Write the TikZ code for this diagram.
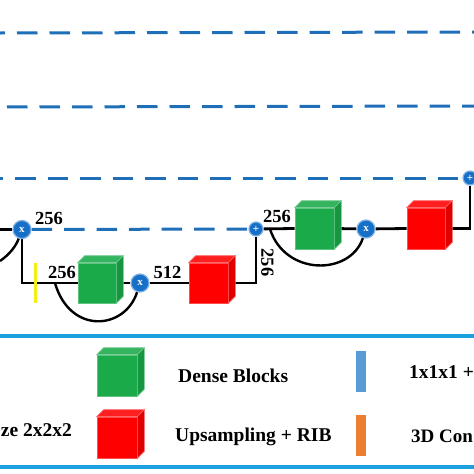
\documentclass[tikz,border=0pt]{standalone}
\usepackage{fontspec}
\setmainfont{Liberation Serif}
\usetikzlibrary{calc,backgrounds}
\definecolor{dashblue}{RGB}{31,111,184}
\definecolor{circblue}{RGB}{22,112,200}
\definecolor{legline}{RGB}{28,160,222}
\definecolor{cgreen}{RGB}{26,170,74}
\definecolor{cred}{RGB}{255,0,0}
\definecolor{barblue}{RGB}{91,155,213}
\definecolor{barorange}{RGB}{237,125,49}
\definecolor{baryellow}{RGB}{245,240,20}
\tikzset{
  skip/.style={draw=dashblue, line width=3pt, dash pattern=on 20.5pt off 12pt},
  conn/.style={draw=black, line width=2.8pt},
  arcconn/.style={draw=black, line width=2.4pt},
  legline/.style={draw=legline, line width=3.5pt},
  mulnode/.style={circle, fill=circblue, draw=circblue!55!white, line width=1.2pt, minimum size=18pt, inner sep=0pt, text=white, font=\fontsize{11}{11}\selectfont\bfseries},
  addnode/.style={mulnode, minimum size=14pt},
  lab/.style={font=\fontsize{18.5}{19}\selectfont\bfseries, inner sep=0pt},
  legtext/.style={font=\fontsize{19.5}{20}\selectfont\bfseries, inner sep=0pt},
  cubefront/.style={rectangle, inner sep=0pt, draw=#1!70!white, line width=0.6pt, fill=#1},
  bar/.style={rectangle, inner sep=0pt, fill=#1, minimum width=10pt, minimum height=41pt},
}
\newcommand{\cubesides}[2]{%
  \filldraw[fill=#2!88!white, draw=#2!60!white, line width=0.6pt] (#1.north west) -- ++(7,-7) -- ($(#1.north east)+(7,-7)$) -- (#1.north east) -- cycle;
  \filldraw[fill=#2!88!black, draw=#2!60!white, line width=0.6pt] (#1.north east) -- ++(7,-7) -- ($(#1.south east)+(7,-7)$) -- (#1.south east) -- cycle;
}
\begin{document}
\begin{tikzpicture}[x=1pt,y=-1pt]
\useasboundingbox (0,0) rectangle (474,474);
% cubes (front faces)
\node[cubefront=cgreen, minimum width=38pt, minimum height=40pt] (g1) at (97,283) {};
\node[cubefront=cred, minimum width=39pt, minimum height=40pt] (r1) at (208.5,283) {};
\node[cubefront=cgreen, minimum width=39pt, minimum height=41pt] (g2) at (314.5,228.5) {};
\node[cubefront=cred, minimum width=38pt, minimum height=41pt] (r2) at (426,228.5) {};
\cubesides{g1}{cgreen}
\cubesides{r1}{cred}
\cubesides{g2}{cgreen}
\cubesides{r2}{cred}
% operator circles
\node[mulnode] (x1) at (22,229.5) {x};
\node[mulnode] (x2) at (140,283) {x};
\node[mulnode] (x3) at (366,229) {x};
\node[addnode] (p1) at (256,229) {+};
\node[addnode] (p2) at (470,178) {+};
% yellow bar
\node[rectangle, inner sep=0pt, fill=baryellow, minimum width=3.5pt, minimum height=40pt] (yb) at (35.5,283) {};
% coordinates
\coordinate (d1s) at (0,33); \coordinate (d1e) at (474,32);
\coordinate (d2s) at (0,107); \coordinate (d2e) at (474,106);
\coordinate (d3s) at (0,178);
\coordinate (in1) at (0,229.5);
\coordinate (in2) at (0,261);
\coordinate (c1) at (55,283);
\coordinate (c2) at (270,229);
\coordinate (lt1) at (0,336); \coordinate (lt2) at (474,336);
\coordinate (lb1) at (0,467); \coordinate (lb2) at (474,467);
\begin{scope}[on background layer]
\draw[skip, dash phase=15.5pt] (d1s) -- (d1e);
\draw[skip, dash phase=25.5pt] (d2s) -- (d2e);
\draw[skip, dash phase=17.5pt] (d3s) -- (p2);
\draw[skip] (x1) -- (p1);
\draw[conn] (in1) -- (x1);
\draw[arcconn] (in2) .. controls (10,254) and (16,246) .. (x1);
\draw[conn] (x1) -- (x1 |- g1) -- (g1.west);
\draw[arcconn] (c1) .. controls (70,335) and (125,330) .. (x2);
\draw[conn] (g1.east) -- (x2);
\draw[conn] (x2) -- (r1.west);
\draw[conn] (r1.east) -- (p1 |- r1.east) -- (p1);
\draw[conn] (p1) -- (g2.west);
\draw[arcconn] (c2) .. controls (285,276) and (350,276) .. (x3);
\draw[conn] (g2.east) -- (x3);
\draw[conn] (x3) -- (r2.west);
\draw[conn] (r2.east) -- (p2 |- r2.east) -- (p2);
\end{scope}
% labels
\node[lab] (l1) at (49,218.5) {256};
\node[lab] (l2) at (62,272.5) {256};
\node[lab] (l3) at (167.5,272.5) {512};
\node[lab, rotate=-90] (l4) at (267.5,262.5) {256};
\node[lab] (l5) at (277,216.5) {256};
% legend
\draw[legline] (lt1) -- (lt2);
\draw[legline] (lb1) -- (lb2);
\node[cubefront=cgreen, minimum width=40pt, minimum height=41pt] (lg) at (117,375.5) {};
\node[cubefront=cred, minimum width=40pt, minimum height=41pt] (lr) at (117,437.5) {};
\cubesides{lg}{cgreen}
\cubesides{lr}{cred}
\node[bar=barblue] (lbb) at (361,371.5) {};
\node[bar=barorange] (lbo) at (361,435) {};
\node[legtext, anchor=base east] (t0) at (72,436) {ze 2x2x2};
\node[legtext, anchor=base west] (t1) at (178,382) {Dense Blocks};
\node[legtext, anchor=base west] (t2) at (175,441) {Upsampling + RIB};
\node[legtext, anchor=base west] (t3) at (409,378) {1x1x1 +};
\node[legtext, font=\fontsize{19}{20}\selectfont\bfseries, anchor=base west] (t4) at (411,442) {3D Con};
\end{tikzpicture}
\end{document}
